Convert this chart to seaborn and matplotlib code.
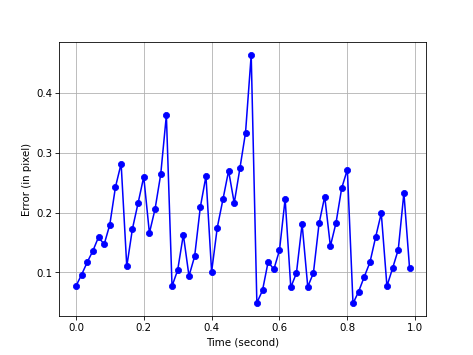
import numpy as np
import pandas as pd
import matplotlib
matplotlib.use("Agg")
import matplotlib.pyplot as plt
import seaborn as sns

# Time samples (60 frames over one second)
n_frames = 60
time_s = np.arange(n_frames) / n_frames

# Error values
error_px = [
    0.077, 0.096, 0.117, 0.136, 0.159, 0.147, 0.180, 0.243, 0.282, 0.110,
    0.173, 0.216, 0.260, 0.166, 0.206, 0.264, 0.363, 0.077, 0.104, 0.163,
    0.094, 0.127, 0.209, 0.261, 0.101, 0.175, 0.222, 0.270, 0.216, 0.274,
    0.334, 0.464, 0.049, 0.070, 0.118, 0.105, 0.137, 0.223, 0.075, 0.099,
    0.181, 0.076, 0.099, 0.182, 0.227, 0.144, 0.183, 0.241, 0.272, 0.048,
    0.068, 0.093, 0.117, 0.159, 0.199, 0.077, 0.107, 0.138, 0.233, 0.107,
]

df = pd.DataFrame({"time": time_s, "error": error_px})

fig, ax = plt.subplots(figsize=(6.4, 4.8), dpi=74)
sns.lineplot(data=df, x="time", y="error", ax=ax, color="b",
             marker="o", markeredgecolor="b", markersize=6, linewidth=1.5)
ax.grid(True)
ax.set_xlabel("Time (second)")
ax.set_ylabel("Error (in pixel)")

fig.savefig("out.png", dpi=74)
